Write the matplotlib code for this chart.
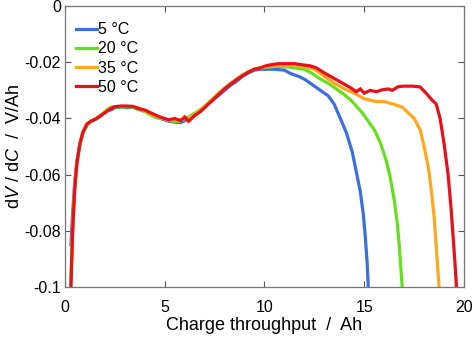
import matplotlib
matplotlib.use("Agg")
import matplotlib.pyplot as plt

plt.rcParams['font.family'] = ['Liberation Sans', 'DejaVu Sans']
plt.rcParams['mathtext.fontset'] = 'custom'
plt.rcParams['mathtext.it'] = 'Liberation Sans:italic'
plt.rcParams['mathtext.rm'] = 'Liberation Sans'

# ---- data ----
head_x = [0.3, 0.35, 0.4, 0.5, 0.6, 0.75, 0.9, 1.1, 1.3, 1.6, 1.9, 2.1, 2.3, 2.5, 2.8,
          3.1, 3.4, 3.7, 4.0, 4.3, 4.6, 4.9, 5.2, 5.5, 5.8, 6.0, 6.2, 6.5, 6.8, 7.1,
          7.4, 7.7, 8.0, 8.3, 8.6, 8.9, 9.2, 9.5, 9.8]
red_head = [-0.100, -0.088, -0.078, -0.064, -0.056, -0.049, -0.045, -0.042, -0.041, -0.0400,
            -0.0385, -0.0375, -0.0365, -0.0358, -0.0356, -0.0356, -0.0357, -0.0365, -0.0370,
            -0.0380, -0.0390, -0.0398, -0.0405, -0.0400, -0.0408, -0.0395, -0.0410, -0.0390,
            -0.0375, -0.0355, -0.0335, -0.0315, -0.0295, -0.0278, -0.0262, -0.0248, -0.0235,
            -0.0225, -0.0220]
blue_head = [-0.085, -0.078, -0.072, -0.062, -0.055, -0.049, -0.045, -0.0425, -0.041, -0.0400,
             -0.0385, -0.0370, -0.0370, -0.0362, -0.0360, -0.0362, -0.0360, -0.0368, -0.0375,
             -0.0385, -0.0395, -0.0403, -0.0410, -0.0413, -0.0415, -0.0408, -0.0400, -0.0385,
             -0.0372, -0.0352, -0.0335, -0.0318, -0.0300, -0.0282, -0.0268, -0.0250, -0.0238,
             -0.0228, -0.0225]
green_head = [-0.098, -0.086, -0.077, -0.063, -0.056, -0.049, -0.045, -0.0423, -0.041, -0.0398,
              -0.0382, -0.0370, -0.0360, -0.0358, -0.0360, -0.0358, -0.0360, -0.0368, -0.0375,
              -0.0388, -0.0398, -0.0400, -0.0408, -0.0410, -0.0410, -0.0400, -0.0395, -0.0382,
              -0.0368, -0.0350, -0.0330, -0.0310, -0.0292, -0.0275, -0.0260, -0.0245, -0.0233,
              -0.0224, -0.0220]
orange_head = [-0.099, -0.087, -0.077, -0.064, -0.056, -0.049, -0.045, -0.042, -0.041, -0.0400,
               -0.0384, -0.0372, -0.0363, -0.0358, -0.0357, -0.0357, -0.0358, -0.0363, -0.0372,
               -0.0383, -0.0392, -0.0400, -0.0405, -0.0405, -0.0405, -0.0400, -0.0400, -0.0386,
               -0.0370, -0.0352, -0.0332, -0.0312, -0.0293, -0.0276, -0.0260, -0.0246, -0.0234,
               -0.0224, -0.0219]

red_tail_x = [10.1, 10.4, 10.7, 11.0, 11.5, 12.0, 12.3, 12.6, 13.0, 13.5, 14.0, 14.3, 14.6, 14.8,
              15.0, 15.3, 15.6, 15.9, 16.2, 16.4, 16.7, 17.0, 17.4, 17.8, 18.1, 18.4, 18.6, 18.8,
              19.0, 19.2, 19.35, 19.45, 19.55, 19.62]
red_tail_y = [-0.0212, -0.0208, -0.0205, -0.0205, -0.0205, -0.0210, -0.0213, -0.0220, -0.0238,
              -0.0258, -0.0278, -0.0290, -0.0305, -0.0295, -0.0310, -0.0300, -0.0305, -0.0298,
              -0.0295, -0.0300, -0.0287, -0.0285, -0.0285, -0.0288, -0.0310, -0.0335, -0.0348,
              -0.0400, -0.0490, -0.0600, -0.0720, -0.0820, -0.0920, -0.1000]
orange_tail_x = [10.1, 10.5, 11.0, 11.5, 12.0, 12.5, 13.0, 13.5, 14.0, 14.5, 15.0, 15.3, 15.6,
                 16.0, 16.5, 16.9, 17.2, 17.5, 17.8, 18.0, 18.2, 18.35, 18.5, 18.6, 18.7, 18.75]
orange_tail_y = [-0.0215, -0.0212, -0.0210, -0.0210, -0.0215, -0.0225, -0.0250, -0.0275, -0.0295,
                 -0.0310, -0.0330, -0.0335, -0.0340, -0.0340, -0.0350, -0.0360, -0.0380, -0.0400,
                 -0.0440, -0.0500, -0.0570, -0.0650, -0.0750, -0.0850, -0.0950, -0.1000]
green_tail_x = [10.1, 10.5, 11.0, 11.5, 12.0, 12.4, 12.8, 13.2, 13.6, 14.0, 14.4, 14.9, 15.2,
                15.5, 15.8, 16.1, 16.3, 16.5, 16.65, 16.75, 16.85, 16.9]
green_tail_y = [-0.0218, -0.0215, -0.0215, -0.0220, -0.0225, -0.0240, -0.0260, -0.0275, -0.0295,
                -0.0315, -0.0340, -0.0380, -0.0410, -0.0440, -0.0485, -0.0550, -0.0610, -0.0690,
                -0.0770, -0.0850, -0.0950, -0.1000]
blue_tail_x = [10.1, 10.5, 11.0, 11.3, 11.7, 12.0, 12.4, 12.8, 13.2, 13.5, 13.8, 14.1, 14.4,
               14.6, 14.8, 14.95, 15.05, 15.15, 15.2]
blue_tail_y = [-0.0225, -0.0225, -0.0228, -0.0240, -0.0250, -0.0260, -0.0280, -0.0300, -0.0320,
               -0.0350, -0.0400, -0.0450, -0.0520, -0.0590, -0.0660, -0.0740, -0.0820, -0.0920,
               -0.1000]

labels = ['5 °C', '20 °C', '35 °C', '50 °C']
colors = ['#3a6fe0', '#66e01e', '#ffa81e', '#e8101a']

series = [
    (head_x + blue_tail_x, blue_head + blue_tail_y),
    (head_x + green_tail_x, green_head + green_tail_y),
    (head_x + orange_tail_x, orange_head + orange_tail_y),
    (head_x + red_tail_x, red_head + red_tail_y),
]

xticks = [0, 5, 10, 15, 20]
yticks = [0, -0.02, -0.04, -0.06, -0.08, -0.1]
ytick_labels = ['0', '-0.02', '-0.04', '-0.06', '-0.08', '-0.1']

# ---- figure ----
fig = plt.figure(figsize=(4.74, 3.38), dpi=100)
ax = fig.add_axes([0.137, 0.151, 0.842, 0.831])

for (x, y), lab, c in zip(series, labels, colors):
    ax.plot(x, y, color=c, lw=2.3, label=lab, solid_joinstyle='miter')

ax.set_xlim(0, 20)
ax.set_ylim(-0.1, 0)
ax.set_xticks(xticks)
ax.set_xticklabels([str(t) for t in xticks])
ax.set_yticks(yticks)
ax.set_yticklabels(ytick_labels)
ax.tick_params(direction='in', top=True, right=True, length=4, width=0.8,
               color='#555555', labelsize=11.5, pad=3)
ax.tick_params(axis='x', pad=9.5)
for s in ax.spines.values():
    s.set_color('#777777')
    s.set_linewidth(0.9)

ax.set_xlabel('Charge throughput  /  Ah', fontsize=13, labelpad=1)
ax.set_ylabel(r'd$V$ / d$C$  /  V/Ah', fontsize=13, labelpad=1)

leg = ax.legend(loc='upper left', frameon=False, fontsize=11.5, handlelength=1.3,
                handletextpad=0.05, labelspacing=0.26, borderaxespad=0.3,
                bbox_to_anchor=(0.0, 0.982))

fig.savefig('out.png', dpi=100)
